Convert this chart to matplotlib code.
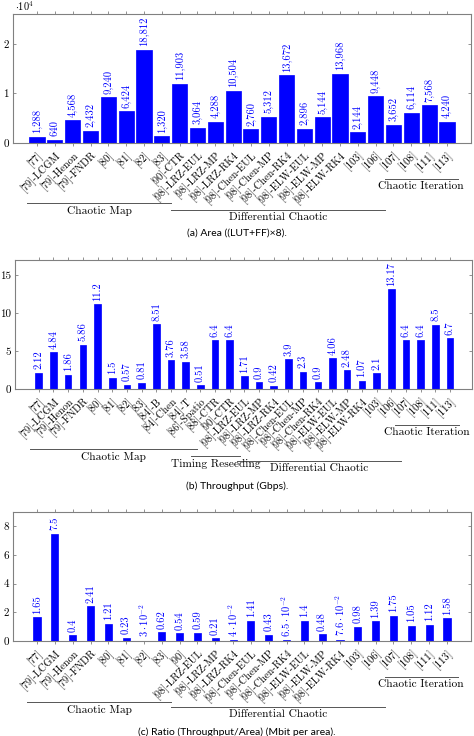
import numpy as np
import matplotlib
matplotlib.use('Agg')
import matplotlib.pyplot as plt
from matplotlib.transforms import blended_transform_factory

plt.rcParams['font.family'] = 'cmr10'
plt.rcParams['mathtext.fontset'] = 'cm'
plt.rcParams['axes.formatter.use_mathtext'] = True

# (a) area
area_labels = ['[77]', '[79]-LCGM', '[79]-Henon', '[79]-FNDR', '[80]', '[81]', '[82]', '[83]',
               '[90]-CTR', '[98]-LRZ-EUL', '[98]-LRZ-MP', '[98]-LRZ-RK4', '[98]-Chen-EUL',
               '[98]-Chen-MP', '[98]-Chen-RK4', '[98]-ELW-EUL', '[98]-ELW-MP', '[98]-ELW-RK4',
               '[103]', '[106]', '[107]', '[108]', '[111]', '[113]']
area_values = [1288, 640, 4568, 2432, 9240, 6424, 18812, 1320, 11903, 3064, 4288, 10504,
               2760, 5312, 13672, 2896, 5144, 13968, 2144, 9448, 3652, 6114, 7568, 4240]

# (b) throughput
tp_labels = ['[77]', '[79]-LCGM', '[79]-Henon', '[79]-FNDR', '[80]', '[81]', '[82]', '[83]',
             '[84]-B', '[84]-Chen', '[84]-T', '[86]-Spatio', '[88]-CTR', '[90]-CTR',
             '[98]-LRZ-EUL', '[98]-LRZ-MP', '[98]-LRZ-RK4', '[98]-Chen-EUL', '[98]-Chen-MP',
             '[98]-Chen-RK4', '[98]-ELW-EUL', '[98]-ELW-MP', '[98]-ELW-RK4',
             '[103]', '[106]', '[107]', '[108]', '[111]', '[113]']
tp_values = [2.12, 4.84, 1.86, 5.86, 11.2, 1.5, 0.57, 0.81, 8.51, 3.76, 3.58, 0.51, 6.4, 6.4,
             1.71, 0.9, 0.42, 3.9, 2.3, 0.9, 4.06, 2.48, 1.07, 2.1, 13.17, 6.4, 6.4, 8.5, 6.7]

# (c) ratio
ratio_labels = ['[77]', '[79]-LCGM', '[79]-Henon', '[79]-FNDR', '[80]', '[81]', '[82]', '[83]',
                '[90]', '[98]-LRZ-EUL', '[98]-LRZ-MP', '[98]-LRZ-RK4', '[98]-Chen-EUL',
                '[98]-Chen-MP', '[98]-Chen-RK4', '[98]-ELW-EUL', '[98]-ELW-MP', '[98]-ELW-RK4',
                '[103]', '[106]', '[107]', '[108]', '[111]', '[113]']
ratio_values = [1.65, 7.5, 0.4, 2.41, 1.21, 0.23, 0.03, 0.62, 0.54, 0.59, 0.21, 0.04,
                1.41, 0.43, 0.065, 1.4, 0.48, 0.076, 0.98, 1.39, 1.75, 1.05, 1.12, 1.58]

# group brackets: name, span start, span end (in bar index units)
area_groups = [('Chaotic Map', -0.55, 7.5), ('Differential Chaotic', 7.5, 19.55),
               ('Chaotic Iteration', 19.5, 23.6)]
tp_groups = [('Chaotic Map', -0.6, 10.75), ('Timing Reseeding', 10.35, 13.7),
             ('Differential Chaotic', 13.5, 24.65), ('Chaotic Iteration', 24.25, 28.6)]
ratio_groups = area_groups

BLUE = '#0000ff'
GRAY = '#808080'


def fmt_area(v):
    return f'{v:,}'


def fmt_plain(v):
    return f'{v:g}'


def fmt_ratio(v):
    if v < 0.1:
        return r'$%g\cdot10^{-2}$' % round(v * 100, 2)
    return f'{v:g}'


def draw(ax, labels, values, width, ylim, yticks, yticklabels, fmt, groups, line_y, xlim):
    x = np.arange(len(values))
    ax.bar(x, values, width=width, color=BLUE, edgecolor=BLUE, linewidth=0.5)
    for xi, v in zip(x, values):
        ax.annotate(fmt(v), (xi, v), xytext=(0, 2.5), textcoords='offset points',
                    rotation=90, ha='center', va='bottom', color=BLUE, fontsize=7.6)
    ax.set_xlim(*xlim)
    ax.set_ylim(*ylim)
    ax.set_xticks(x)
    ax.set_xticklabels(labels, rotation=45, ha='right', va='top',
                       rotation_mode='anchor', fontsize=7.5)
    ax.set_yticks(yticks)
    ax.set_yticklabels(yticklabels, fontsize=8)
    ax.tick_params(axis='x', direction='out', top=True, length=2.5, width=0.6,
                   color=GRAY, pad=2)
    ax.tick_params(axis='y', direction='in', right=True, length=2.5, width=0.6,
                   color=GRAY, pad=3)
    for s in ax.spines.values():
        s.set_color(GRAY)
        s.set_linewidth(0.8)
    trans = blended_transform_factory(ax.transData, ax.transAxes)
    for (name, x0, x1), ly in zip(groups, line_y):
        ax.plot([x0, x1], [ly, ly], color='#555555', lw=0.7, transform=trans, clip_on=False)
        ax.text((x0 + x1) / 2, ly - 0.02, name, transform=trans, ha='center', va='top',
                fontsize=8.2)


fig = plt.figure(figsize=(4.74, 7.36), dpi=100)

ax_a = fig.add_axes([13 / 474, 1 - 143 / 736, 458 / 474, 129 / 736])
draw(ax_a, area_labels, area_values, 0.85, (0, 26000), [0, 10000, 20000], ['0', '1', '2'],
     fmt_area, area_groups, [-0.465, -0.52, -0.279], (-1.35, 24.35))
ax_a.text(0.005, 1.005, r'$\cdot10^4$', transform=ax_a.transAxes, ha='left', va='bottom',
          fontsize=7.5)

ax_b = fig.add_axes([15 / 474, 1 - 389 / 736, 457 / 474, 129 / 736])
draw(ax_b, tp_labels, tp_values, 0.45, (0, 17), [0, 5, 10, 15], ['0', '5', '10', '15'],
     fmt_plain, tp_groups, [-0.465, -0.52, -0.558, -0.279], (-1.62, 29.5))

ax_c = fig.add_axes([13 / 474, 1 - 641 / 736, 458 / 474, 129 / 736])
draw(ax_c, ratio_labels, ratio_values, 0.4, (0, 9), [0, 2, 4, 6, 8], ['0', '2', '4', '6', '8'],
     fmt_ratio, ratio_groups, [-0.473, -0.51, -0.279], (-1.35, 24.35))

cap = dict(ha='center', va='center', fontsize=7.5, family='Lato')
fig.text(0.5, 1 - 233 / 736, '(a) Area ((LUT+FF)\u00d78).', **cap)
fig.text(0.5, 1 - 486 / 736, '(b) Throughput (Gbps).', **cap)
fig.text(0.5, 1 - 732 / 736, '(c) Ratio (Throughput/Area) (Mbit per area).', **cap)

fig.savefig('out.png', dpi=100)
